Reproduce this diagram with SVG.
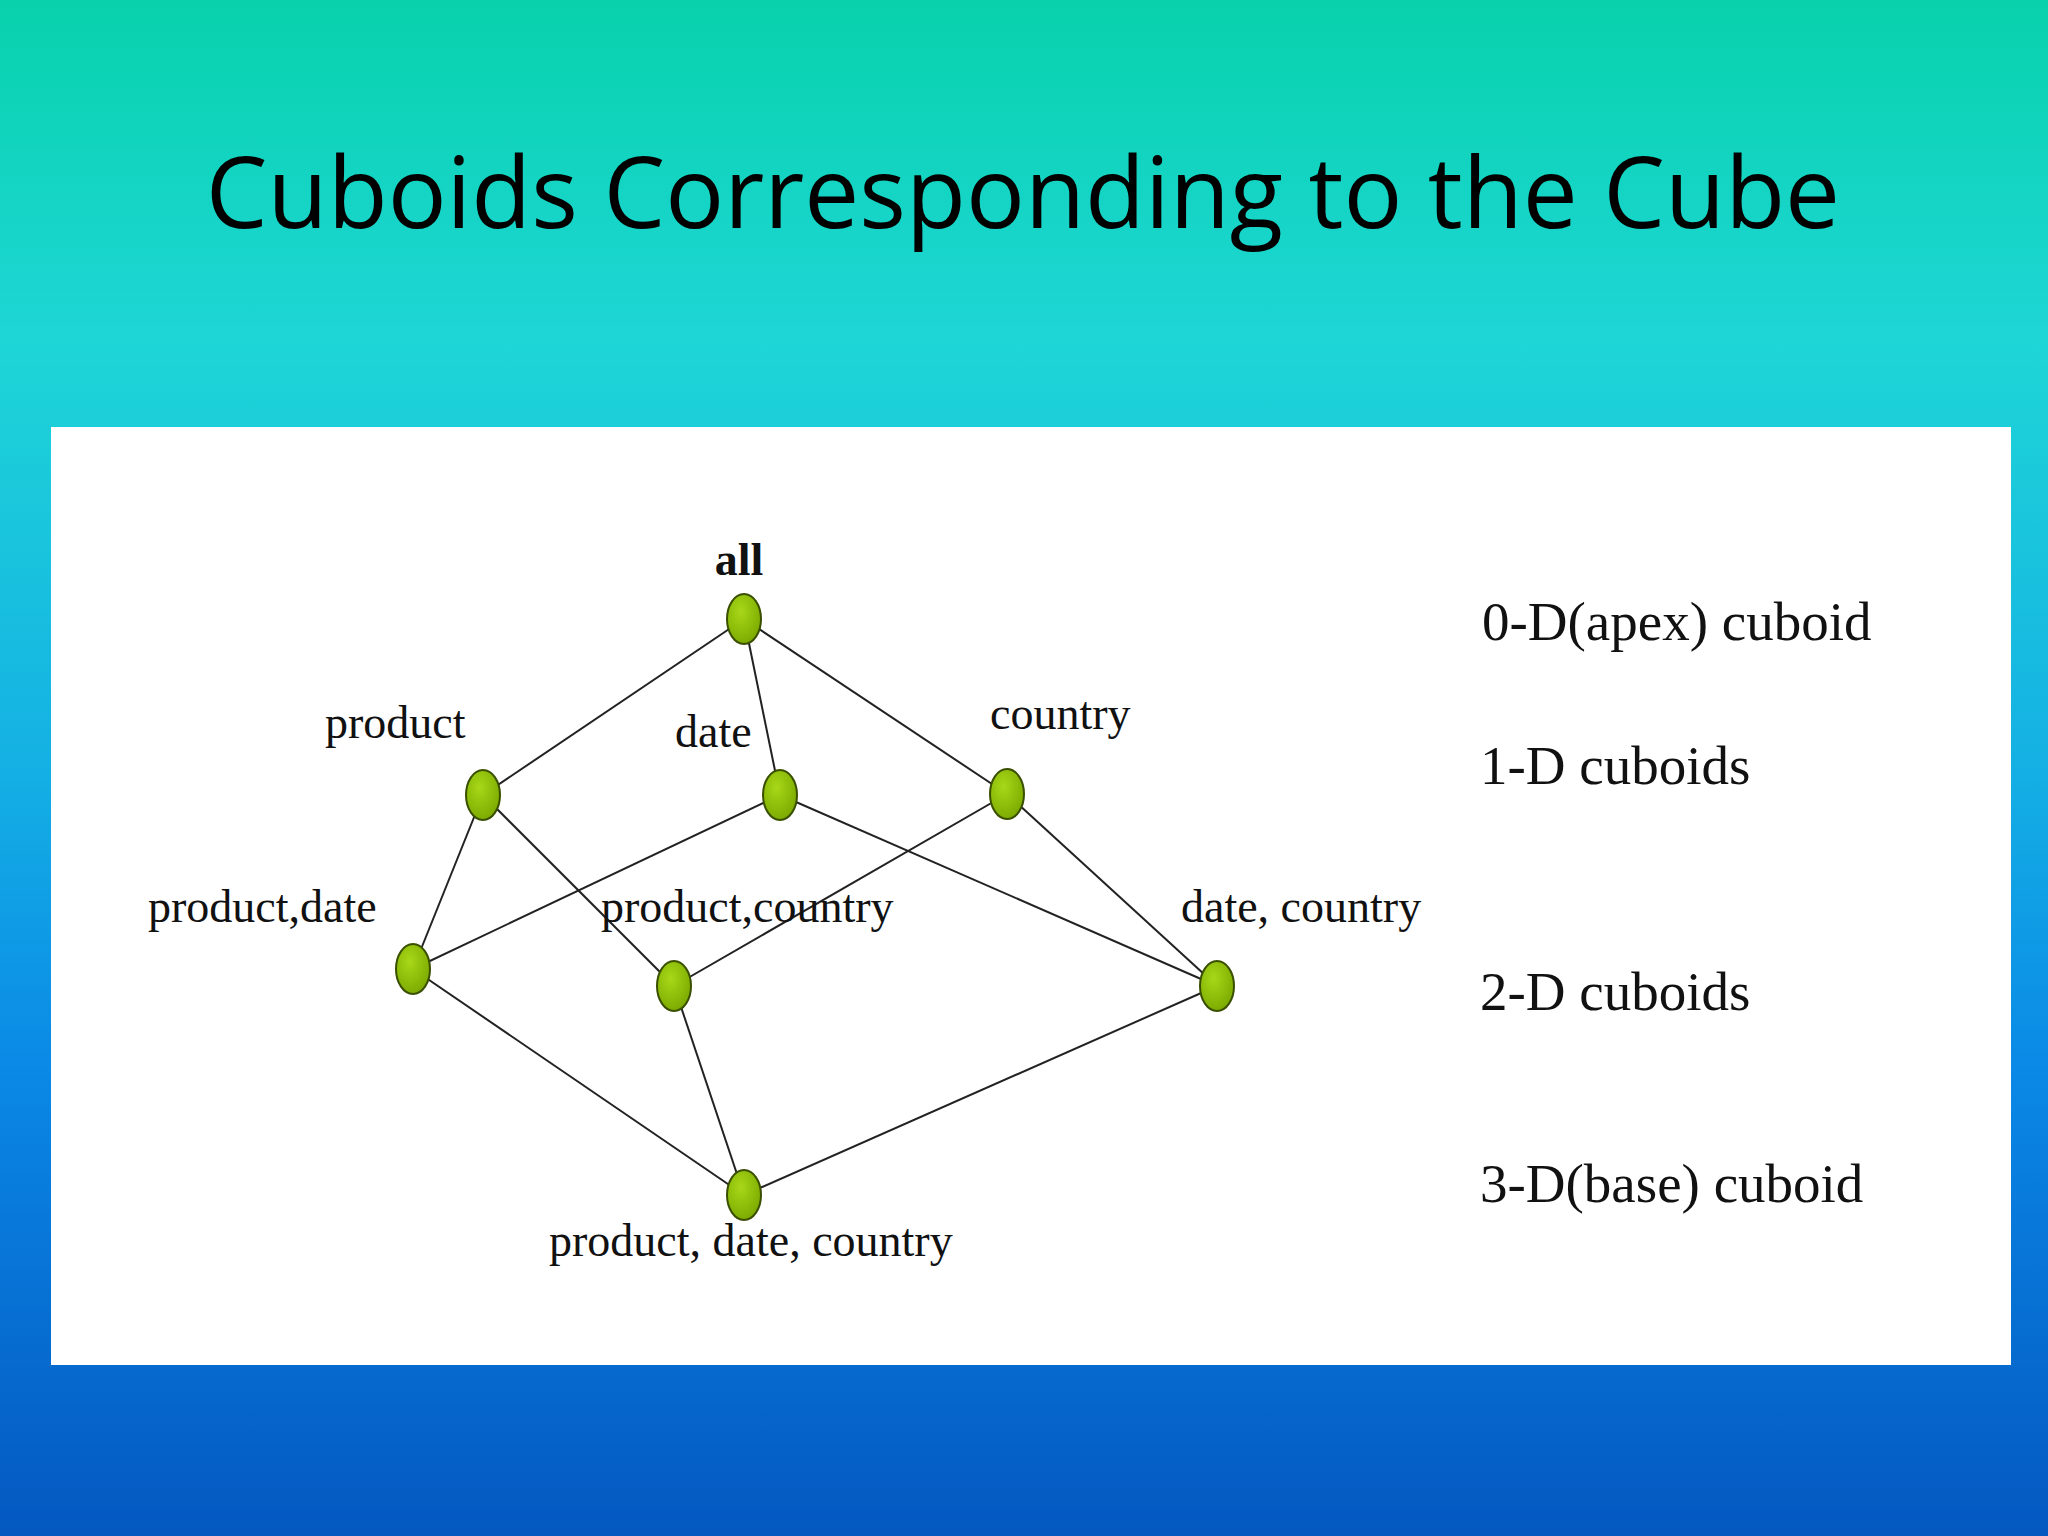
<svg xmlns="http://www.w3.org/2000/svg" width="2048" height="1536" viewBox="0 0 2048 1536">
<defs>
<linearGradient id="bg" x1="0" y1="0" x2="0" y2="1">
<stop offset="0" stop-color="#08d2ac"/>
<stop offset="0.22" stop-color="#1ed6d6"/>
<stop offset="0.5" stop-color="#14b0e4"/>
<stop offset="0.7" stop-color="#0a88e6"/>
<stop offset="1" stop-color="#0458c0"/>
</linearGradient>
<radialGradient id="ng" cx="0.4" cy="0.35" r="0.7">
<stop offset="0" stop-color="#a8d818"/>
<stop offset="1" stop-color="#7aa800"/>
</radialGradient>
</defs>
<style>
.n{fill:url(#ng);stroke:#3a5000;stroke-width:2}
.e{stroke:#222;stroke-width:2;fill:none}
.t{font-family:"Liberation Serif",serif;font-size:46px;fill:#111}
.r{font-family:"Liberation Serif",serif;font-size:55px;fill:#111}
</style>
<rect width="2048" height="1536" fill="url(#bg)"/>
<text x="1023" y="228" text-anchor="middle" font-family="Open Sans, sans-serif" font-size="98" fill="#000">Cuboids Corresponding to the Cube</text>
<rect x="51" y="427" width="1960" height="938" fill="#fff"/>
<g id="connectors">
<line class="e" x1="744" y1="619" x2="483" y2="795"/>
<line class="e" x1="744" y1="619" x2="780" y2="795"/>
<line class="e" x1="744" y1="619" x2="1007" y2="794"/>
<line class="e" x1="483" y1="795" x2="413" y2="969"/>
<line class="e" x1="483" y1="795" x2="674" y2="986"/>
<line class="e" x1="780" y1="795" x2="413" y2="969"/>
<line class="e" x1="780" y1="795" x2="1217" y2="986"/>
<line class="e" x1="1007" y1="794" x2="674" y2="986"/>
<line class="e" x1="1007" y1="794" x2="1217" y2="986"/>
<line class="e" x1="413" y1="969" x2="744" y2="1195"/>
<line class="e" x1="674" y1="986" x2="744" y2="1195"/>
<line class="e" x1="1217" y1="986" x2="744" y2="1195"/>
</g>
<g id="n-all"><ellipse class="n" cx="744" cy="619" rx="17" ry="25"/><text x="739" y="575" text-anchor="middle" class="t" font-weight="bold">all</text></g>
<g id="n-product"><ellipse class="n" cx="483" cy="795" rx="17" ry="25"/><text x="325" y="738" class="t">product</text></g>
<g id="n-date"><ellipse class="n" cx="780" cy="795" rx="17" ry="25"/><text x="675" y="747" class="t">date</text></g>
<g id="n-country"><ellipse class="n" cx="1007" cy="794" rx="17" ry="25"/><text x="990" y="729" class="t">country</text></g>
<g id="n-pd"><ellipse class="n" cx="413" cy="969" rx="17" ry="25"/><text x="148" y="922" class="t">product,date</text></g>
<g id="n-pc"><ellipse class="n" cx="674" cy="986" rx="17" ry="25"/><text x="601" y="922" class="t">product,country</text></g>
<g id="n-dc"><ellipse class="n" cx="1217" cy="986" rx="17" ry="25"/><text x="1181" y="922" class="t">date, country</text></g>
<g id="n-pdc"><ellipse class="n" cx="744" cy="1195" rx="17" ry="25"/><text x="549" y="1256" class="t">product, date, country</text></g>
<g id="levels">
<text x="1482" y="640" class="r">0-D(apex) cuboid</text>
<text x="1480" y="784" class="r">1-D cuboids</text>
<text x="1480" y="1010" class="r">2-D cuboids</text>
<text x="1480" y="1202" class="r">3-D(base) cuboid</text>
</g>
</svg>
